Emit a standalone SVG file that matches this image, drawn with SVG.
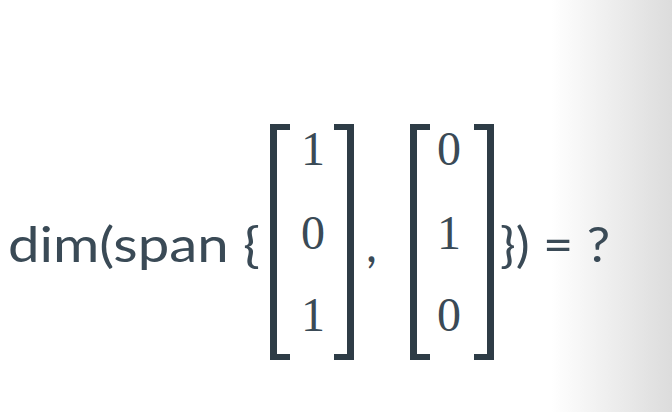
<svg xmlns="http://www.w3.org/2000/svg" width="672" height="412" viewBox="0 0 672 412">
<defs>
<linearGradient id="bg" x1="0" x2="1" y1="0" y2="0">
<stop offset="0" stop-color="#ffffff"/>
<stop offset="0.82" stop-color="#ffffff"/>
<stop offset="1" stop-color="#dcdcdc"/>
</linearGradient>
<style>
.s{font-family:Lato,"Liberation Sans",sans-serif;font-size:48px;fill:#3a4a56}
.n{font-family:"Liberation Serif",serif;font-size:48px;fill:#3a4a56;text-anchor:middle}
.b{fill:#2e3c46}
</style>
</defs>
<rect width="672" height="412" fill="url(#bg)"/>
<text class="s" x="8" y="262" textLength="252" lengthAdjust="spacingAndGlyphs">dim(span {</text>
<g id="m1">
<path class="b" d="M270 124h20v6h-13v224h13v6h-20z"/>
<path class="b" d="M354 124h-20v6h13v224h-13v6h20z"/>
<text class="n" x="313" y="165">1</text>
<text class="n" x="313" y="249">0</text>
<text class="n" x="313" y="331">1</text>
</g>
<text class="s" x="366" y="262">,</text>
<g id="m2">
<path class="b" d="M410 124h20v6h-13v224h13v6h-20z"/>
<path class="b" d="M494 124h-20v6h13v224h-13v6h20z"/>
<text class="n" x="449" y="165">0</text>
<text class="n" x="449" y="249">1</text>
<text class="n" x="449" y="331">0</text>
</g>
<text class="s" x="500" y="262" textLength="110" lengthAdjust="spacingAndGlyphs">}) = ?</text>
</svg>
